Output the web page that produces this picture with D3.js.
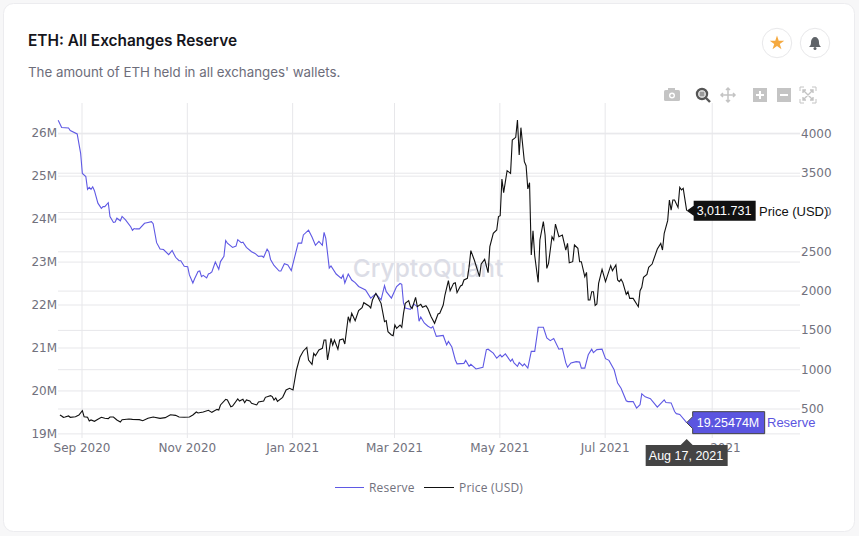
<!DOCTYPE html>
<html>
<head>
<meta charset="utf-8">
<script src="https://cdn.jsdelivr.net/npm/d3@7"></script>
<style>
  html, body { margin: 0; padding: 0; background: #f7f7f8; }
  svg { display: block; }
</style>
</head>
<body>
<div id="vis"></div>
<script>
// days counted from the first sample
var reserve_days = [
  0,2,6,7,11,13,14,16,17,18,
  19,20,21,23,25,26,27,29,30,32,
  33,34,36,37,39,42,43,44,45,47,
  50,52,54,55,57,59,61,64,66,68,
  70,71,73,75,76,78,79,81,82,83,
  84,86,87,88,89,91,93,94,96,97,
  98,101,103,104,106,107,109,112,114,116,
  118,119,121,122,123,125,128,129,131,133,
  135,136,139,141,142,145,147,149,151,153,
  154,155,157,158,161,164,165,166,168,170,
  172,174,178,181,184,187,189,190,193,196,
  198,199,200,201,204,206,208,209,210,212,
  214,216,217,219,221,223,225,226,228,230,
  231,235,236,238,239,242,246,248,249,252,
  254,256,257,259,262,263,264,266,267,269,
  270,272,274,276,278,281,283,285,287,290,
  292,294,295,297,300,302,303,305,307,309,
  310,312,315,317,319,322,324,326,329,330,
  333,335,337,338,340,343,345,347,351,352,
  355,357,358,360,364
]
// millions of ETH
var reserve_values = [
  26.29,26.12,26.11,26.05,25.97,25.52,25.05,24.98,24.68,24.73,
  24.68,24.74,24.65,24.36,24.24,24.28,24.28,24.37,24.05,23.91,
  23.92,24.01,23.95,24.05,23.97,23.81,23.73,23.77,23.76,23.76,
  23.89,23.91,23.93,23.88,23.44,23.29,23.28,23.16,23.26,23.10,
  23.02,23.02,22.89,22.88,22.69,22.50,22.60,22.77,22.78,22.65,
  22.68,22.62,22.71,22.73,22.76,22.99,22.82,23.00,23.12,23.49,
  23.43,23.33,23.36,23.51,23.44,23.45,23.33,23.23,23.19,23.12,
  23.13,23.10,23.29,23.23,23.05,22.91,22.78,22.78,22.95,22.92,
  22.79,22.95,23.43,23.43,23.62,23.73,23.57,23.38,23.47,23.38,
  23.68,23.54,22.85,22.90,22.71,22.61,22.69,22.50,22.71,22.57,
  22.51,22.42,22.34,22.15,22.25,22.11,22.44,22.30,22.15,22.42,
  22.49,22.47,22.03,21.92,21.89,22.01,21.95,21.61,21.71,21.57,
  21.50,21.45,21.49,21.26,21.27,21.28,21.06,21.14,21.01,20.71,
  20.62,20.63,20.70,20.56,20.61,20.50,20.54,20.95,20.96,20.87,
  20.75,20.83,20.78,20.85,20.68,20.73,20.64,20.56,20.65,20.57,
  20.62,20.52,20.91,20.91,21.47,21.47,21.22,21.16,21.21,20.96,
  20.98,20.64,20.54,20.64,20.67,20.66,20.52,20.52,20.83,20.96,
  20.88,20.95,20.96,20.74,20.70,20.48,20.17,20.05,19.76,19.74,
  19.74,19.59,19.67,19.92,19.85,19.81,19.71,19.61,19.78,19.72,
  19.71,19.51,19.46,19.44,19.25
]
var price_days = [
  1,2,3,4,6,7,10,12,14,15,
  17,18,19,21,23,25,27,29,30,32,
  34,36,37,41,43,47,49,52,55,59,
  62,65,68,70,73,76,78,80,81,84,
  87,89,92,93,94,97,98,100,101,104,
  105,107,108,109,111,112,115,116,119,120,
  123,124,125,126,127,130,132,134,136,138,
  140,142,144,145,147,148,149,151,153,154,
  155,156,157,158,159,160,162,163,165,166,
  168,169,170,172,174,176,177,180,181,182,
  184,186,187,189,190,191,193,194,195,196,
  198,199,200,201,203,204,205,207,208,210,
  211,213,214,216,218,220,221,223,224,226,
  227,229,230,231,233,234,235,237,238,239,
  241,244,245,247,249,250,252,254,255,256,
  257,258,260,262,263,265,266,267,268,270,
  271,272,273,274,275,276,278,279,281,282,
  283,284,286,287,288,290,292,294,295,296,
  298,299,301,302,303,305,306,307,308,309,
  310,311,312,313,315,317,320,321,323,324,
  325,326,327,329,330,331,333,336,337,338,
  339,341,342,344,347,349,350,351,353,354,
  355,356,357,359,360,361,362,364
]
// USD
var price_values = [
  417,405,388,392,405,388,396,417,472,396,
  388,341,354,337,362,388,375,371,392,392,
  354,328,358,366,362,358,345,375,392,375,
  384,421,413,392,388,392,417,455,443,455,
  477,451,489,481,545,617,608,523,532,621,
  595,617,574,608,595,566,545,583,595,642,
  663,651,608,634,591,642,735,757,735,990,
  1151,1232,1278,1117,1062,1202,1172,1244,1265,1371,
  1371,1117,1244,1393,1308,1371,1253,1371,1384,1321,
  1668,1605,1711,1617,1745,1783,1846,1804,1779,1880,
  1965,1880,1838,1605,1618,1478,1435,1427,1562,1520,
  1562,1533,1711,1838,1872,1796,1774,1914,1796,1825,
  1787,1808,1774,1668,1584,1702,1711,1817,1944,2126,
  1999,2092,2101,1974,2059,2071,2135,2156,2304,2508,
  2389,2177,2338,2398,2228,2559,2729,2771,2941,2953,
  3420,3246,3526,3492,3916,3950,4170,3725,4073,3640,
  3589,3293,3373,2453,2762,2444,2105,2644,2877,2707,
  2283,2347,2686,2644,2847,2686,2707,2516,2601,2355,
  2368,2580,2538,2368,2368,2177,2232,1880,1880,1986,
  1986,1812,1829,2092,2270,2114,2317,2253,2326,2135,
  2114,2143,2105,1952,1986,1901,1901,1795,1999,2041,
  2169,2207,2296,2338,2529,2601,2516,2729,2890,3153,
  3025,3153,3153,3059,3314,3280,3301,3017
]
var reserve_ticks = [19, 20, 21, 22, 23, 24, 25, 26]
var price_ticks = [500, 1000, 1500, 2000, 2500, 3000, 3500, 4000]
var date_ticks = ["2020-09-01", "2020-11-01", "2021-01-01", "2021-03-01", "2021-05-01", "2021-07-01", "2021-09-01"]
var first_sample = new Date(2020, 7, 18, 12)

var purple = "#5f59e4"
var grid_color = "#e7e7ea"
var tick_color = "#71717d"
var tick_font = "'DejaVu Sans', sans-serif"
var legend_font = "'Open Sans', sans-serif"
var hover_font = "'Liberation Sans', Arial, sans-serif"

var svg = d3.select("#vis").append("svg").attr("width", 859).attr("height", 536)

// card
svg.append("rect").attr("x", 3.5).attr("y", 3.5).attr("width", 851).attr("height", 528).attr("rx", 10)
  .attr("fill", "#fff").attr("stroke", "#ececef")

svg.append("text").attr("x", 28).attr("y", 46).text("ETH: All Exchanges Reserve")
  .style("font", "600 15.4px Inter, sans-serif").attr("fill", "#15151c")
svg.append("text").attr("x", 28).attr("y", 77).text("The amount of ETH held in all exchanges' wallets.")
  .style("font", "13.3px Inter, sans-serif").attr("fill", "#6d6d7a")

// scales
var x = d3.scaleTime()
  .domain([new Date("2020-09-01T00:00:00"), new Date("2021-09-01T00:00:00")])
  .range([81.5, 711.7])
var y_reserve = d3.scaleLinear().domain([19, 26]).range([433.4, 132.7])
var y_price = d3.scaleLinear().domain([500, 4000]).range([408.5, 133.4])

var left = 58, right = 800, top_y = 103, bottom_y = 438
var date_values = date_ticks.map(function(d){ return new Date(d + "T00:00:00") })

function sample_date(day) {
  return d3.timeDay.offset(first_sample, day)
}

function clean_axis(g) {
  g.select(".domain").remove()
  g.selectAll("text").style("font", "12px " + tick_font).attr("fill", tick_color)
}

function grid_axis(g) {
  g.select(".domain").remove()
  g.selectAll("line").attr("stroke", grid_color)
  g.selectAll("text").remove()
}

// grids
svg.append("g").attr("transform", "translate(0," + bottom_y + ")")
  .call(d3.axisBottom(x).tickValues(date_values).tickSize(top_y - bottom_y)).call(grid_axis)
svg.append("g").attr("transform", "translate(" + left + ",0)")
  .call(d3.axisLeft(y_reserve).tickValues(reserve_ticks).tickSize(left - right)).call(grid_axis)
svg.append("g").attr("transform", "translate(" + left + ",0)")
  .call(d3.axisLeft(y_price).tickValues(price_ticks).tickSize(left - right)).call(grid_axis)

// watermark
svg.append("text").attr("x", 428).attr("y", 277).attr("text-anchor", "middle").text("CryptoQuant")
  .style("font", "500 24.5px Inter, sans-serif").attr("fill", "#dcdde6")

// axes
svg.append("g").attr("transform", "translate(" + left + ",0)")
  .call(d3.axisLeft(y_reserve).tickValues(reserve_ticks).tickSize(0).tickPadding(1)
    .tickFormat(function(d){ return d + "M" })).call(clean_axis)
svg.append("g").attr("transform", "translate(" + right + ",0)")
  .call(d3.axisRight(y_price).tickValues(price_ticks).tickSize(0).tickPadding(1)
    .tickFormat(d3.format("d"))).call(clean_axis)
svg.append("g").attr("transform", "translate(0," + bottom_y + ")")
  .call(d3.axisBottom(x).tickValues(date_values).tickSize(0).tickPadding(5)
    .tickFormat(d3.timeFormat("%b %Y"))).call(clean_axis)

// lines
var reserve_line = d3.line()
  .x(function(d, i){ return x(sample_date(reserve_days[i])) })
  .y(function(d){ return y_reserve(d) })
var price_line = d3.line()
  .x(function(d, i){ return x(sample_date(price_days[i])) })
  .y(function(d){ return y_price(d) })

svg.append("path").attr("d", reserve_line(reserve_values)).attr("fill", "none")
  .attr("stroke", purple).attr("stroke-width", 1.1)
svg.append("path").attr("d", price_line(price_values)).attr("fill", "none")
  .attr("stroke", "#111").attr("stroke-width", 1.1)

// legend
var legend = svg.append("g")
legend.append("line").attr("x1", 335).attr("x2", 364).attr("y1", 487.5).attr("y2", 487.5).attr("stroke", purple)
legend.append("text").attr("x", 369).attr("y", 492).text("Reserve")
  .style("font", "12px " + legend_font).style("letter-spacing", "0.2px").attr("fill", tick_color)
legend.append("line").attr("x1", 424).attr("x2", 454).attr("y1", 487.5).attr("y2", 487.5).attr("stroke", "#111")
legend.append("text").attr("x", 459).attr("y", 492).text("Price (USD)")
  .style("font", "12px " + legend_font).style("letter-spacing", "0.2px").attr("fill", tick_color)

// hover labels
var hover_x = x(sample_date(reserve_days[reserve_days.length - 1]))
var hover_reserve_y = y_reserve(reserve_values[reserve_values.length - 1])
var hover_price_y = y_price(price_values[price_values.length - 1])

function hover_text(tx, ty, label, color, anchor, size) {
  svg.append("text").attr("x", tx).attr("y", ty).attr("text-anchor", anchor || "middle")
    .attr("dominant-baseline", "central").text(label)
    .style("font", (size || 12.5) + "px " + hover_font).attr("fill", color)
}

svg.append("rect").attr("x", 755).attr("y", 203).attr("width", 72).attr("height", 17).attr("fill", "#fff")
svg.append("path")
  .attr("d", "M" + hover_x + "," + hover_price_y + "l7,-5v-5h62v20h-62v-5z")
  .attr("fill", "#111")
hover_text(724, 211, "3,011.731", "#fff")
hover_text(759, 211, "Price (USD)", "#111", "start", 13)

svg.append("path")
  .attr("d", "M" + hover_x + "," + hover_reserve_y + "l6,-6v-5h72v22h-72v-5z")
  .attr("fill", "#5b55e0").attr("stroke", "#444")
hover_text(728, 422.5, "19.25474M", "#fff")
hover_text(767, 422.5, "Reserve", "#5b55e0", "start", 13)

svg.append("path")
  .attr("d", "M" + hover_x + ",439l6,6h35v21h-82v-21h35z")
  .attr("fill", "#444")
hover_text(686, 456, "Aug 17, 2021", "#fff")

// header buttons
var star_button = svg.append("g").attr("transform", "translate(777,43)")
star_button.append("circle").attr("r", 14.7).attr("fill", "#fff").attr("stroke", "#e8e8ea")
star_button.append("path").attr("d", d3.symbol(d3.symbolStar).size(65)()).attr("fill", "#f5a93f")

var bell_button = svg.append("g").attr("transform", "translate(815,43)")
bell_button.append("circle").attr("r", 14.7).attr("fill", "#fff").attr("stroke", "#e8e8ea")
bell_button.append("path").attr("d", "M-6,4c2,-2 2,-3 2,-5c0,-3 2,-5 4,-5c2,0 4,2 4,5c0,2 0,3 2,5z").attr("fill", "#5f6368")
bell_button.append("circle").attr("cy", 5.5).attr("r", 1.5).attr("fill", "#5f6368")

// plot toolbar
var tool_gray = "#c4c4c4"
var camera = svg.append("g").attr("transform", "translate(672,95)")
camera.append("rect").attr("x", -8).attr("y", -5).attr("width", 16).attr("height", 11).attr("rx", 1.5).attr("fill", tool_gray)
camera.append("rect").attr("x", -4).attr("y", -7).attr("width", 7).attr("height", 3).attr("fill", tool_gray)
camera.append("circle").attr("r", 3).attr("cy", 0.5).attr("fill", "#fff")
camera.append("circle").attr("r", 1.6).attr("cy", 0.5).attr("fill", tool_gray)

var lens = svg.append("g").attr("transform", "translate(702,94)")
lens.append("circle").attr("r", 5).attr("fill", "#fff").attr("stroke", "#555").attr("stroke-width", 2.4)
lens.append("rect").attr("x", -2.5).attr("y", -2.5).attr("width", 5).attr("height", 5).attr("fill", "#9a9a9a")
lens.append("line").attr("x1", 4).attr("y1", 4).attr("x2", 8).attr("y2", 8).attr("stroke", "#555").attr("stroke-width", 2.4)

var pan = svg.append("g").attr("transform", "translate(728,95)").attr("stroke", tool_gray).attr("fill", "none").attr("stroke-width", 1.5)
pan.append("path").attr("d", "M-7,0H7M0,-7V7M-5,-2l-2,2l2,2M5,-2l2,2l-2,2M-2,-5l2,-2l2,2M-2,5l2,2l2,-2")

var plus_tool = svg.append("g").attr("transform", "translate(760,95)")
plus_tool.append("rect").attr("x", -7).attr("y", -7).attr("width", 14).attr("height", 14).attr("fill", tool_gray)
plus_tool.append("path").attr("d", "M-4,0H4M0,-4V4").attr("stroke", "#fff").attr("stroke-width", 2)

var minus_tool = svg.append("g").attr("transform", "translate(784,95)")
minus_tool.append("rect").attr("x", -7).attr("y", -7).attr("width", 14).attr("height", 14).attr("fill", tool_gray)
minus_tool.append("path").attr("d", "M-4,0H4").attr("stroke", "#fff").attr("stroke-width", 2)

var reset_tool = svg.append("g").attr("transform", "translate(808,95)").attr("stroke", tool_gray).attr("fill", "none")
reset_tool.append("path").attr("d", "M-8,-4V-8H-4M4,-8H8V-4M8,4V8H4M-4,8H-8V4").attr("stroke-width", 1)
reset_tool.append("path").attr("d", "M-5,-5L5,5M5,-5L-5,5M-5,-2V-5H-2M2,-5H5V-2M5,2V5H2M-2,5H-5V2").attr("stroke-width", 1.4)
</script>
</body>
</html>
